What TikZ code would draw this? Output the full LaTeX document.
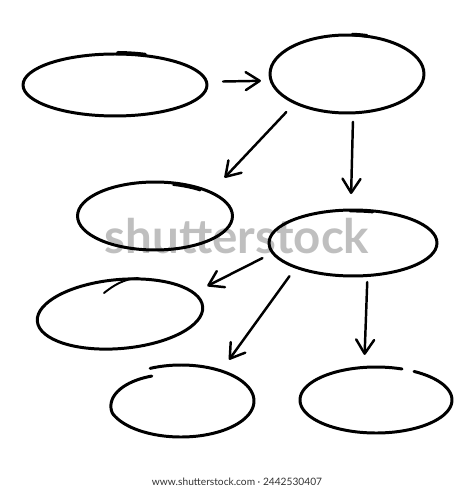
\documentclass[tikz,border=0pt]{standalone}
\usepackage{fontspec}
\newfontfamily\latofont{Lato}
\usetikzlibrary{shapes.geometric,arrows.meta}
\begin{document}
\begin{tikzpicture}[x=0.02cm,y=-0.02cm,
  ell/.style={ellipse, draw, line width=1.7pt, inner sep=0pt, outer sep=0pt},
  ghost/.style={ellipse, inner sep=0pt, outer sep=0pt},
  stroke/.style={line width=1.7pt, line cap=round, line join=round},
  thin stroke/.style={line width=1.1pt, line cap=round},
  arr/.style={line width=1.4pt, line cap=round, -{Straight Barb[length=0.28cm,width=0.36cm,round]}},
  mark text/.style={text=black!25, font=\latofont\bfseries\fontsize{27}{27}\selectfont, inner sep=0pt, anchor=base},
  url text/.style={text=black!80, font=\latofont\fontsize{5.8}{7}\selectfont, inner sep=0pt}
]
\useasboundingbox (0,0) rectangle (474,489);
\fill[white] (0,0) rectangle (474,489);

% watermark and footer
\node[mark text] (wm) at (237,253) {shutterstock};
\node[url text] (url) at (237,482) {www.shutterstock.com · 2442530407};

% ellipses
\node[ell, minimum width=3.68cm, minimum height=1.24cm] (A) at (115,85) {};
\node[ell, minimum width=3.08cm, minimum height=1.56cm] (B) at (347,74) {};
\node[ell, minimum width=3.10cm, minimum height=1.36cm] (C) at (155,216) {};
\node[ell, minimum width=3.36cm, minimum height=1.32cm] (D) at (353,243) {};
\node[ell, rotate=5, minimum width=3.32cm, minimum height=1.38cm] (E) at (120,314) {};
\node[ghost, minimum width=2.92cm, minimum height=1.44cm] (F) at (181,401) {};
\node[ghost, minimum width=3.04cm, minimum height=1.32cm] (G) at (376,400) {};

% hand-drawn extras
\draw[stroke, line width=2.3pt] plot[domain=71:88, samples=10, smooth] ({115+91.5*cos(\x)},{85-32*sin(\x)});
\draw[stroke, line width=2.1pt] plot[domain=75:86, samples=8, smooth] ({347+77*cos(\x)},{74-39.5*sin(\x)});
\draw[thin stroke] plot[domain=53:76, samples=10, smooth] ({155+75*cos(\x)},{216-32*sin(\x)});
\draw[thin stroke] plot[domain=76:92, samples=10, smooth] ({353+82*cos(\x)},{243-31.5*sin(\x)});
\draw[thin stroke] (104,293) .. controls (114,285) and (124,279) .. (138,278);
\draw[stroke] plot[domain=120:475, samples=100, smooth]
  ({181+73*(0.8+0.2*min(1,(\x-120)/80))*cos(\x)},{401-36*(0.8+0.2*min(1,(\x-120)/80))*sin(\x)});
\draw[stroke] plot[domain=-290:60, samples=100, smooth] ({376+76*cos(\x)},{400-33*sin(\x)});

% arrows
\draw[arr, shorten <=0.334cm, shorten >=0.204cm] (A.2.5) -- (B.185.2);
\draw[arr, shorten <=0.256cm, shorten >=0.404cm] (B.209.6) -- (C.23.5);
\draw[arr, shorten <=0.18cm, shorten >=0.32cm] (B.279) -- (D.94);
\draw[arr, shorten <=0.234cm, shorten >=0.306cm] (D.187.8) -- (E.11.4);
\draw[arr, shorten <=0.222cm, shorten >=0.276cm] (D.203.5) -- (F.37);
\draw[arr, shorten <=0.132cm, shorten >=0.25cm] (D.294.8) -- (G.110.8);
\end{tikzpicture}
\end{document}
